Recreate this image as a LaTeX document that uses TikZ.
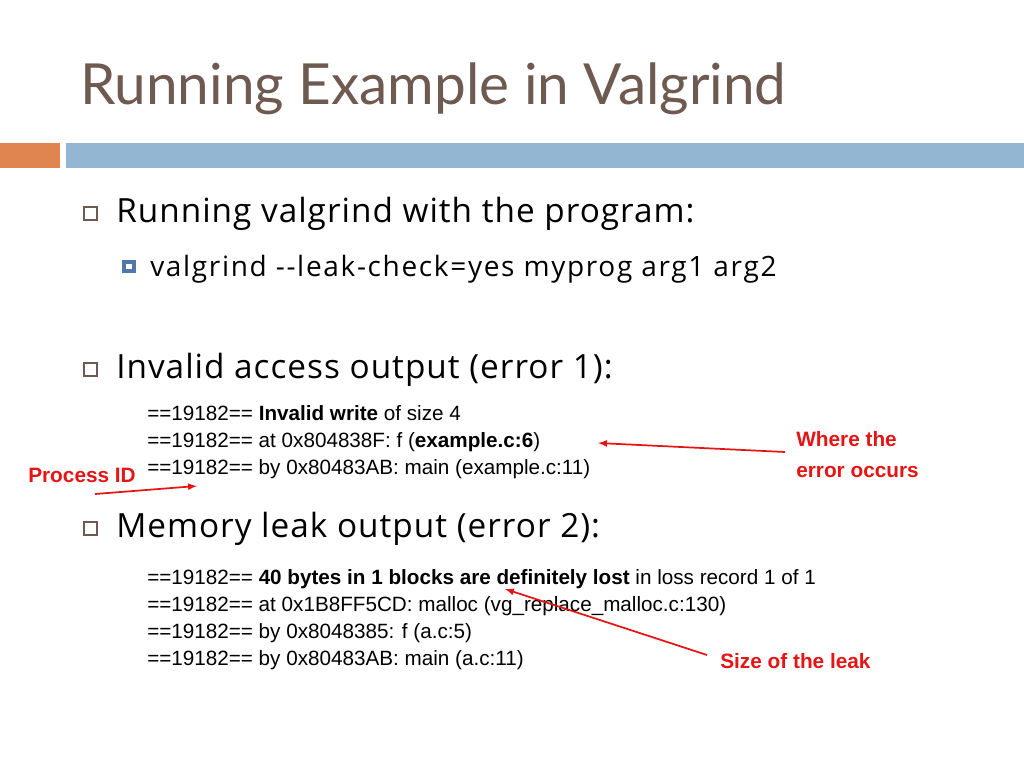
\documentclass[tikz,border=0pt]{standalone}
\usepackage{fontspec}
\setmainfont{Lato}
\newfontfamily\bodyf{Open Sans}
\newfontfamily\bodyw[LetterSpace=6]{Open Sans}
\newfontfamily\bodyv[LetterSpace=3]{Open Sans}
\newfontfamily\arialf{Liberation Sans}
\definecolor{ttl}{RGB}{110,90,80}
\definecolor{org}{RGB}{224,132,80}
\definecolor{blu}{RGB}{147,183,210}
\definecolor{bul}{RGB}{80,120,170}
\definecolor{redc}{RGB}{230,20,20}
\tikzset{
 code/.style={anchor=base west,inner sep=0,font=\arialf\fontsize{15.5}{18}\selectfont},
 lvl1/.style={anchor=base west,inner sep=0,font=\bodyv\fontsize{25}{28}\selectfont},
 lvl2/.style={anchor=base west,inner sep=0,font=\bodyw\fontsize{21}{24}\selectfont},
 lab/.style={anchor=base west,inner sep=0,text=redc,font=\arialf\bfseries\fontsize{15.6}{18}\selectfont},
 arr/.style={draw=redc,line width=1.3pt,-latex}
}
\begin{document}
\begin{tikzpicture}[x=0.75pt,y=-0.75pt]
\useasboundingbox (0,0) rectangle (1024,768);
\node[anchor=base west,inner sep=0,text=ttl,font=\fontsize{42.5}{50}\selectfont] (t) at (80,104) {Running Example in Valgrind};
\fill[org] (0,143) rectangle (60,168);
\fill[blu] (66,143) rectangle (1024,168);
\draw[ttl,line width=0.8pt] (84,207) rectangle (97,220);
\node[lvl1] (b1) at (116,222) {Running valgrind with the program:};
\fill[bul] (122,260) rectangle (136,273);
\fill[white] (126,264) rectangle (132,269);
\node[lvl2] (b1a) at (150,276) {valgrind -{}-leak-check=yes myprog arg1 arg2};
\draw[ttl,line width=0.8pt] (84,363) rectangle (97,376);
\node[lvl1] (b2) at (116,378) {Invalid access output (error 1):};
\node[code] (c1) at (147,420) {==19182== \textbf{Invalid write} of size 4};
\node[code] (c2) at (147,447) {==19182== at 0x804838F: f (\textbf{example.c:6})};
\node[code] (c3) at (147,474) {==19182== by 0x80483AB: main (example.c:11)};
\draw[ttl,line width=0.8pt] (84,522) rectangle (97,535);
\node[lvl1] (b3) at (116,537) {Memory leak output (error 2):};
\node[code] (d1) at (147,584) {==19182== \textbf{40 bytes in 1 blocks are definitely lost} in loss record 1 of 1};
\node[code] (d2) at (147,611) {==19182== at 0x1B8FF5CD: malloc (vg\_replace\_malloc.c:130)};
\node[code] (d3) at (147,638) {==19182== by 0x8048385: f (a.c:5)};
\node[code] (d4) at (147,665) {==19182== by 0x80483AB: main (a.c:11)};
\node[lab] (l1) at (796,446) {Where the};
\node[lab] (l2) at (796,477) {error occurs};
\node[lab] (l3) at (28,482) {Process ID};
\node[lab] (l4) at (720,668) {Size of the leak};
\coordinate (a1s) at (785,452); \coordinate (a1e) at (598,443);
\coordinate (a2s) at (95,494); \coordinate (a2e) at (197,486);
\coordinate (a3s) at (707,655); \coordinate (a3e) at (505,589);
\draw[arr] (a1s) -- (a1e);
\draw[arr] (a2s) -- (a2e);
\draw[arr] (a3s) -- (a3e);
\end{tikzpicture}
\end{document}
